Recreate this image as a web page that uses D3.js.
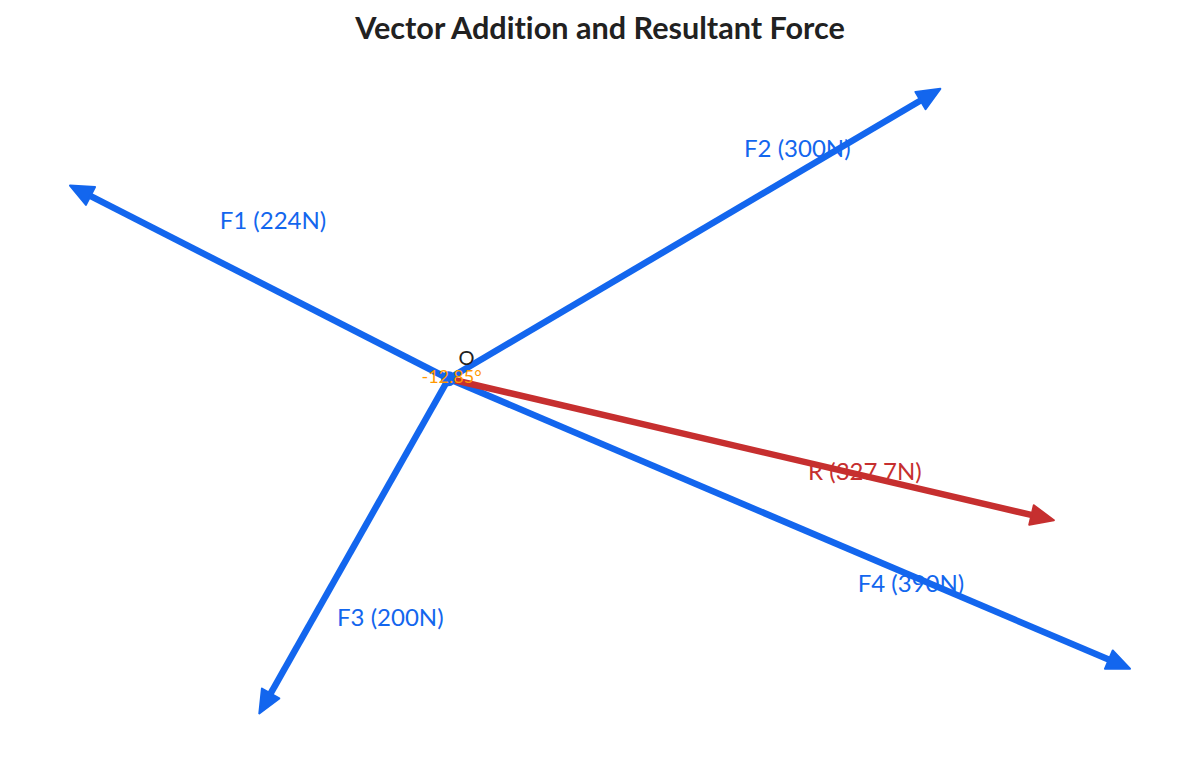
<!DOCTYPE html>
<html>
<head>
<meta charset="utf-8">
<script src="https://cdn.jsdelivr.net/npm/d3@7"></script>
<style>
  body { margin: 0; background: #fff; }
  text { font-family: Lato, sans-serif; font-variant-ligatures: none; }
</style>
</head>
<body>
<div id="chart"></div>
<script>
const names = ['F1', 'F2', 'F3', 'F4'];
const magnitudes = [224, 300, 200, 390];
const fx = [-200, 259.8, -100, 360];
const fy = [100, 150, -173.2, -150];
const resultantName = 'R';
const resultantMagnitude = 327.7;
const resultantX = 319.8;
const resultantY = -73.2;
const resultantAngle = -12.85;

const width = 1200;
const height = 763;
const blue = '#1366ee';
const red = '#c62f2f';

const x = d3.scaleLinear().domain([-200, 360]).range([70, 1130]);
const y = d3.scaleLinear().domain([-173.2, 100]).range([713.5, 185.5]);

const svg = d3.select('#chart')
  .append('svg')
  .attr('width', width)
  .attr('height', height);

// arrow heads, the line stops at the base of the head
const defs = svg.append('defs');
[['head-blue', blue], ['head-red', red]].forEach(([id, color]) => {
  defs.append('marker')
    .attr('id', id)
    .attr('markerUnits', 'userSpaceOnUse')
    .attr('viewBox', '-2 -13 30 26')
    .attr('markerWidth', 30)
    .attr('markerHeight', 26)
    .attr('refX', 3)
    .attr('refY', 0)
    .attr('orient', 'auto')
    .append('path')
    .attr('d', 'M0,-10L23,0L0,10Z')
    .attr('fill', color)
    .attr('stroke', color)
    .attr('stroke-width', 2)
    .attr('stroke-linejoin', 'round');
});

const forces = names.map((name, i) => ({
  name,
  label: `${name} (${magnitudes[i]}N)`,
  x: fx[i],
  y: fy[i],
  color: blue,
  head: 'head-blue',
}));
const resultant = {
  name: resultantName,
  label: `${resultantName} (${resultantMagnitude}N)`,
  x: resultantX,
  y: resultantY,
  color: red,
  head: 'head-red',
};
const vectors = forces.concat(resultant);

// where each label sits relative to the arrow tip, in pixels
const labelShift = {
  F1: [203, 37], F2: [-143, 62], F3: [131, -94], F4: [-219, -83], R: [-189, -46],
};

svg.append('text')
  .attr('x', 600)
  .attr('y', 39)
  .attr('text-anchor', 'middle')
  .attr('font-size', 30.6)
  .attr('font-weight', 700)
  .attr('fill', '#212121')
  .text('Vector Addition and Resultant Force');

svg.selectAll('.vector')
  .data(vectors)
  .enter()
  .append('line')
  .attr('class', 'vector')
  .attr('x1', x(0))
  .attr('y1', y(0))
  .attr('x2', (d) => {
    const dx = x(d.x) - x(0);
    const dy = y(d.y) - y(0);
    return x(d.x) - dx / Math.hypot(dx, dy) * 20;
  })
  .attr('y2', (d) => {
    const dx = x(d.x) - x(0);
    const dy = y(d.y) - y(0);
    return y(d.y) - dy / Math.hypot(dx, dy) * 20;
  })
  .attr('stroke', (d) => d.color)
  .attr('stroke-width', 6.5)
  .attr('marker-end', (d) => `url(#${d.head})`);

svg.append('circle')
  .attr('cx', x(0))
  .attr('cy', y(0))
  .attr('r', 7.5)
  .attr('fill', blue);

svg.selectAll('.vector-label')
  .data(vectors)
  .enter()
  .append('text')
  .attr('class', 'vector-label')
  .attr('x', (d) => x(d.x) + labelShift[d.name][0])
  .attr('y', (d) => y(d.y) + labelShift[d.name][1])
  .attr('text-anchor', 'middle')
  .attr('dominant-baseline', 'middle')
  .attr('font-size', 24)
  .attr('fill', (d) => d.color)
  .text((d) => d.label);

svg.append('text')
  .attr('x', x(0) + 18)
  .attr('y', y(0) - 19)
  .attr('text-anchor', 'middle')
  .attr('dominant-baseline', 'middle')
  .attr('font-size', 20)
  .attr('fill', '#212121')
  .text('O');

svg.append('text')
  .attr('x', x(0) + 3)
  .attr('y', y(0))
  .attr('text-anchor', 'middle')
  .attr('dominant-baseline', 'middle')
  .attr('font-size', 18)
  .attr('fill', '#ff9800')
  .text(`${resultantAngle}°`);
</script>
</body>
</html>
